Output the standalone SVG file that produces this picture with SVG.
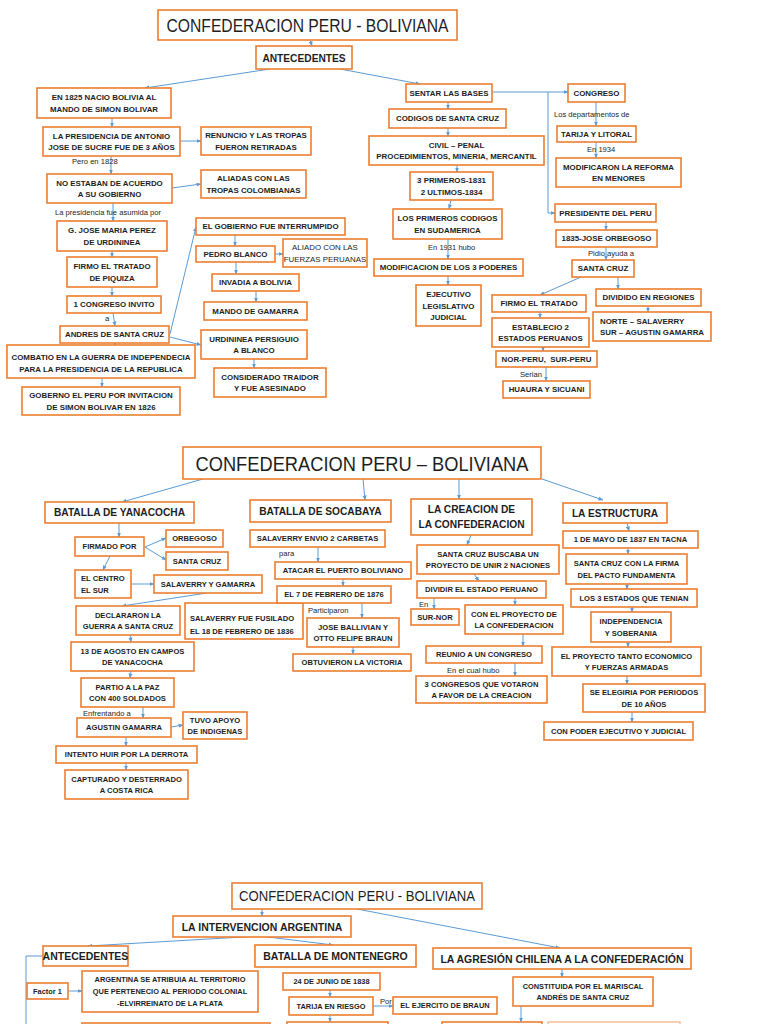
<svg xmlns="http://www.w3.org/2000/svg" width="768" height="1024" viewBox="0 0 768 1024">
<style>
rect{fill:#fff;stroke:#ED7D31;stroke-width:1.6}
text{font-family:"Liberation Sans",Arial,sans-serif;fill:#1e1e1e}
.t{font-size:7.9px;font-weight:bold;text-anchor:middle}
.t2{font-size:7.6px;font-weight:bold;text-anchor:middle}
.t3{font-size:7.4px;font-weight:bold;text-anchor:middle}
.l{text-anchor:start}
.h{font-size:10.2px;font-weight:bold;text-anchor:middle}
.h3{font-size:10.5px;font-weight:bold;text-anchor:middle}
.lb{font-size:7.6px;text-anchor:start}
.ttl{text-anchor:middle}
.n{font-weight:normal}
#conn path{fill:none;stroke:#5B9BD5;stroke-width:1}
#conn path.a{marker-end:url(#ah)}
</style>
<defs>
<marker id="ah" viewBox="0 0 10 10" refX="9" refY="5" markerWidth="5" markerHeight="5" markerUnits="userSpaceOnUse" orient="auto"><path d="M0,1 L10,5 L0,9 z" fill="#5B9BD5"/></marker>
</defs>
<rect x="0" y="0" width="768" height="1024" style="fill:#fff;stroke:none"/>

<g id="conn">
<path class="a" d="M310,40 L312,46"/>
<path class="a" d="M270,69 L145,88"/>
<path class="a" d="M340,69 L420,84"/>
<path class="a" d="M112,118 L112,127"/>
<path class="a" d="M180,141 L201,141"/>
<path class="a" d="M111,156 L111,174"/>
<path class="a" d="M172,188 L201,184"/>
<path class="a" d="M113,203 L113,221"/>
<path class="a" d="M112,251 L112,257"/>
<path class="a" d="M112,287 L112,296"/>
<path class="a" d="M113,313 L115,326"/>
<path class="a" d="M170,334 L196,227"/>
<path class="a" d="M170,337 L201,345"/>
<path class="a" d="M115,342 L115,345"/>
<path class="a" d="M102,378 L102,387"/>
<path class="a" d="M235,235 L235,246"/>
<path class="a" d="M275,254 L283,254"/>
<path class="a" d="M236,262 L236,274"/>
<path class="a" d="M256,291 L256,302"/>
<path class="a" d="M254,359 L254,368"/>
<path class="a" d="M448,102 L448,109"/>
<path class="a" d="M448,128 L448,136"/>
<path class="a" d="M457,165 L457,172"/>
<path class="a" d="M451,200 L449,209"/>
<path class="a" d="M448,239 L448,259"/>
<path class="a" d="M448,276 L448,285"/>
<path class="a" d="M492,92 L568,92"/>
<path class="a" d="M548,92 L548,213 L555,213"/>
<path class="a" d="M596,102 L596,126"/>
<path class="a" d="M596,142 L596,158"/>
<path class="a" d="M606,222 L606,230"/>
<path class="a" d="M606,247 L606,260"/>
<path class="a" d="M581,277 L540,295"/>
<path class="a" d="M618,277 L618,289"/>
<path class="a" d="M648,306 L648,312"/>
<path class="a" d="M540,312 L540,318"/>
<path class="a" d="M543,347 L543,351"/>
<path class="a" d="M546,367 L546,381"/>

<path class="a" d="M203,479 L122,502"/>
<path class="a" d="M363,479 L365,500"/>
<path class="a" d="M459,479 L459,499"/>
<path class="a" d="M542,479 L603,500"/>
<path class="a" d="M119,523 L119,537"/>
<path class="a" d="M145,547 L166,538"/>
<path class="a" d="M145,547 L166,560"/>
<path class="a" d="M110,556 L103,570"/>
<path class="a" d="M131,584 L154,584"/>
<path class="a" d="M207,593 L122,606"/>
<path class="a" d="M130,635 L131,642"/>
<path class="a" d="M131,671 L130,678"/>
<path class="a" d="M143,707 L143,718"/>
<path class="a" d="M171,727 L183,725"/>
<path class="a" d="M126,737 L126,746"/>
<path class="a" d="M126,763 L126,770"/>
<path class="a" d="M318,547 L318,562"/>
<path class="a" d="M343,579 L343,586"/>
<path class="a" d="M362,603 L362,618"/>
<path class="a" d="M353,647 L353,654"/>
<path class="a" d="M471,535 L467,545"/>
<path class="a" d="M474,574 L479,581"/>
<path class="a" d="M434,598 L434,609"/>
<path class="a" d="M515,598 L515,605"/>
<path class="a" d="M523,634 L523,646"/>
<path class="a" d="M515,663 L515,676"/>
<path class="a" d="M627,523 L629,531"/>
<path class="a" d="M628,548 L628,554"/>
<path class="a" d="M627,584 L627,589"/>
<path class="a" d="M632,607 L632,612"/>
<path class="a" d="M628,642 L628,647"/>
<path class="a" d="M627,676 L627,684"/>
<path class="a" d="M632,712 L632,722"/>

<path class="a" d="M262,909 L262,916"/>
<path class="a" d="M357,909 L560,948"/>
<path class="a" d="M260,936 L88,946"/>
<path class="a" d="M260,936 L333,945"/>
<path d="M43,956 L26,956 L26,1024"/>
<path class="a" d="M68,991 L82,991"/>
<path class="a" d="M330,990 L330,997"/>
<path class="a" d="M373,1006 L393,1006"/>
<path class="a" d="M330,1015 L330,1022"/>
<path class="a" d="M562,969 L562,977"/>
<path class="a" d="M521,1006 L521,1022"/>
</g>

<!-- Section 1 -->
<g id="title1"><rect x="158" y="10" width="299" height="30"/><text class="ttl" x="307.5" y="31.5" font-size="18" textLength="282" lengthAdjust="spacingAndGlyphs">CONFEDERACION PERU - BOLIVIANA</text></g>
<g id="ant1"><rect x="256" y="46" width="96" height="23"/><text class="h" x="304" y="61.5" font-size="10">ANTECEDENTES</text></g>
<g id="n1825"><rect x="37" y="88" width="134" height="30"/><text class="t" x="104" y="100">EN 1825 NACIO BOLIVIA AL</text><text class="t" x="104" y="111.5">MANDO DE SIMON BOLIVAR</text></g>
<g id="presid"><rect x="43" y="127" width="137" height="29"/><text class="t" x="111.5" y="138.5">LA PRESIDENCIA DE ANTONIO</text><text class="t" x="111.5" y="150">JOSE DE SUCRE FUE DE 3 AÑOS</text></g>
<g id="renuncio"><rect x="201" y="127" width="110" height="28"/><text class="t" x="256" y="138">RENUNCIO Y LAS TROPAS</text><text class="t" x="256" y="149.5">FUERON RETIRADAS</text></g>
<g id="noestaban"><rect x="47" y="174" width="125" height="29"/><text class="t" x="109.5" y="185.5">NO ESTABAN DE ACUERDO</text><text class="t" x="109.5" y="197">A SU GOBIERNO</text></g>
<g id="aliadas"><rect x="201" y="170" width="105" height="28"/><text class="t" x="253.5" y="181">ALIADAS CON LAS</text><text class="t" x="253.5" y="192.5">TROPAS COLOMBIANAS</text></g>
<g id="gjose"><rect x="57" y="221" width="110" height="30"/><text class="t" x="112" y="233">G. JOSE MARIA PEREZ</text><text class="t" x="112" y="244.5">DE URDININEA</text></g>
<g id="firmo1"><rect x="67" y="257" width="90" height="30"/><text class="t" x="112" y="269">FIRMO EL TRATADO</text><text class="t" x="112" y="280.5">DE PIQUIZA</text></g>
<g id="congreso1"><rect x="67" y="296" width="94" height="17"/><text class="t" x="114" y="307.3">1 CONGRESO INVITO</text></g>
<g id="andres"><rect x="60" y="326" width="109" height="17"/><text class="t" x="114.5" y="337.3">ANDRES DE SANTA CRUZ</text></g>
<g id="combatio"><rect x="7" y="345" width="188" height="33"/><text class="t" x="101" y="360">COMBATIO EN LA GUERRA DE INDEPENDECIA</text><text class="t" x="101" y="372">PARA LA PRESIDENCIA DE LA REPUBLICA</text></g>
<g id="goberno"><rect x="22" y="387" width="158" height="28"/><text class="t" x="101" y="398">GOBERNO EL PERU POR INVITACION</text><text class="t" x="101" y="409.5">DE SIMON BOLIVAR EN 1826</text></g>
<g id="gobierno"><rect x="196" y="218" width="149" height="17"/><text class="t" x="270.5" y="229.3">EL GOBIERNO FUE INTERRUMPIDO</text></g>
<g id="pedro"><rect x="196" y="246" width="79" height="16"/><text class="t" x="235.5" y="256.8">PEDRO BLANCO</text></g>
<g id="aliado"><rect x="283" y="239" width="84" height="28"/><text class="t n" x="325" y="250" font-size="7.2">ALIADO CON LAS</text><text class="t n" x="325" y="261.5" font-size="7.2">FUERZAS PERUANAS</text></g>
<g id="invadia"><rect x="212" y="274" width="87" height="17"/><text class="t" x="255.5" y="285.3">INVADIA A BOLIVIA</text></g>
<g id="mando"><rect x="204" y="302" width="103" height="18"/><text class="t" x="255.5" y="313.8">MANDO DE GAMARRA</text></g>
<g id="urdininea"><rect x="201" y="330" width="106" height="29"/><text class="t" x="254" y="341.5">URDININEA PERSIGUIO</text><text class="t" x="254" y="353">A BLANCO</text></g>
<g id="considerado"><rect x="214" y="368" width="112" height="29"/><text class="t" x="270" y="379.5">CONSIDERADO TRAIDOR</text><text class="t" x="270" y="391">Y FUE ASESINADO</text></g>
<g id="sentar"><rect x="406" y="84" width="86" height="18"/><text class="t" x="449" y="95.8">SENTAR LAS BASES</text></g>
<g id="codigos"><rect x="389" y="109" width="117" height="19"/><text class="t" x="447.5" y="121.3">CODIGOS DE SANTA CRUZ</text></g>
<g id="civil"><rect x="369" y="136" width="175" height="29"/><text class="t" x="456.5" y="147.5">CIVIL – PENAL</text><text class="t" x="456.5" y="159">PROCEDIMIENTOS, MINERIA, MERCANTIL</text></g>
<g id="primeros"><rect x="410" y="172" width="83" height="28"/><text class="t" x="451.5" y="183">3 PRIMEROS-1831</text><text class="t" x="451.5" y="194.5">2 ULTIMOS-1834</text></g>
<g id="losprimeros"><rect x="393" y="209" width="109" height="30"/><text class="t" x="447.5" y="221">LOS PRIMEROS CODIGOS</text><text class="t" x="447.5" y="232.5">EN SUDAMERICA</text></g>
<g id="modificacion"><rect x="374" y="259" width="149" height="17"/><text class="t" x="448.5" y="270.3">MODIFICACION DE LOS 3 PODERES</text></g>
<g id="ejecutivo"><rect x="416" y="285" width="65" height="41"/><text class="t" x="448.5" y="297">EJECUTIVO</text><text class="t" x="448.5" y="309">LEGISLATIVO</text><text class="t" x="448.5" y="320">JUDICIAL</text></g>
<g id="congreso2"><rect x="568" y="84" width="57" height="18"/><text class="t" x="596.5" y="95.8">CONGRESO</text></g>
<g id="tarija"><rect x="557" y="126" width="79" height="16"/><text class="t" x="596.5" y="136.8">TARIJA Y LITORAL</text></g>
<g id="modificaron"><rect x="556" y="158" width="125" height="29"/><text class="t" x="618.5" y="169.5">MODIFICARON LA REFORMA</text><text class="t" x="618.5" y="181">EN MENORES</text></g>
<g id="presidente"><rect x="555" y="204" width="101" height="18"/><text class="t" x="605.5" y="215.8">PRESIDENTE DEL PERU</text></g>
<g id="orbegoso"><rect x="556" y="230" width="101" height="17"/><text class="t" x="606.5" y="241.3">1835-JOSE ORBEGOSO</text></g>
<g id="santacruz1"><rect x="572" y="260" width="62" height="17"/><text class="t" x="603" y="271.3">SANTA CRUZ</text></g>
<g id="firmo2"><rect x="492" y="295" width="94" height="17"/><text class="t" x="539" y="306.3">FIRMO EL TRATADO</text></g>
<g id="dividido"><rect x="596" y="289" width="105" height="17"/><text class="t" x="648.5" y="300.3">DIVIDIDO EN REGIONES</text></g>
<g id="norte"><rect x="593" y="312" width="118" height="29"/><text class="t l" x="600" y="323.5">NORTE – SALAVERRY</text><text class="t l" x="600" y="335">SUR – AGUSTIN GAMARRA</text></g>
<g id="establecio"><rect x="492" y="318" width="97" height="29"/><text class="t" x="540.5" y="329.5">ESTABLECIO 2</text><text class="t" x="540.5" y="341">ESTADOS PERUANOS</text></g>
<g id="norperu"><rect x="496" y="351" width="101" height="16"/><text class="t" x="546.5" y="361.8" xml:space="preserve">NOR-PERU,  SUR-PERU</text></g>
<g id="huaura"><rect x="503" y="381" width="87" height="17"/><text class="t" x="546.5" y="392.3">HUAURA Y SICUANI</text></g>
<g id="labels1">
<text class="lb" x="72" y="164">Pero en 1828</text>
<text class="lb" x="55" y="215">La presidencia fue asumida por</text>
<text class="lb" x="105" y="321">a</text>
<text class="lb" x="554" y="116.5">Los departamentos de</text>
<text class="lb" x="587" y="151.5">En 1934</text>
<text class="lb" x="428" y="249.5">En 1931 hubo</text>
<text class="lb" x="588" y="255.5">Pidio ayuda a</text>
<text class="lb" x="520" y="376.5">Serian</text>
</g>

<!-- Section 2 -->
<g id="title2"><rect x="183" y="447" width="358" height="32"/><text class="ttl" x="362" y="470.5" font-size="21" textLength="333" lengthAdjust="spacingAndGlyphs">CONFEDERACION PERU – BOLIVIANA</text></g>
<g id="yanacocha"><rect x="45" y="502" width="149" height="21"/><text class="h" x="119.5" y="516">BATALLA DE YANACOCHA</text></g>
<g id="firmado"><rect x="75" y="537" width="69" height="19"/><text class="t2" x="109.5" y="549.3">FIRMADO POR</text></g>
<g id="orbegoso2"><rect x="166" y="530" width="57" height="17"/><text class="t2" x="194.5" y="541.3">ORBEGOSO</text></g>
<g id="santacruz2"><rect x="166" y="552" width="62" height="18"/><text class="t2" x="197" y="563.8">SANTA CRUZ</text></g>
<g id="centro"><rect x="75" y="570" width="56" height="28"/><text class="t2 l" x="81" y="581">EL CENTRO</text><text class="t2 l" x="81" y="592.5">EL SUR</text></g>
<g id="salagam"><rect x="154" y="575" width="108" height="18"/><text class="t2" x="208" y="586.8">SALAVERRY Y GAMARRA</text></g>
<g id="declararon"><rect x="76" y="606" width="104" height="29"/><text class="t2" x="128" y="617.5">DECLARARON LA</text><text class="t2" x="128" y="629">GUERRA A SANTA CRUZ</text></g>
<g id="fusilado"><rect x="185" y="603" width="118" height="36"/><text class="t2 l" x="190" y="621">SALAVERRY FUE FUSILADO</text><text class="t2 l" x="190" y="634">EL 18 DE FEBRERO DE 1836</text></g>
<g id="agosto"><rect x="71" y="642" width="123" height="29"/><text class="t2" x="132.5" y="653.5">13 DE AGOSTO EN CAMPOS</text><text class="t2" x="132.5" y="665">DE YANACOCHA</text></g>
<g id="partio"><rect x="81" y="678" width="93" height="29"/><text class="t2" x="127.5" y="689.5">PARTIO A LA PAZ</text><text class="t2" x="127.5" y="701">CON 400 SOLDADOS</text></g>
<g id="gamarra"><rect x="77" y="718" width="94" height="19"/><text class="t2" x="124" y="730.3">AGUSTIN GAMARRA</text></g>
<g id="apoyo"><rect x="183" y="712" width="64" height="27"/><text class="t2" x="215" y="722.5">TUVO APOYO</text><text class="t2" x="215" y="734">DE INDIGENAS</text></g>
<g id="intento"><rect x="56" y="746" width="141" height="17"/><text class="t2" x="126.5" y="757.3">INTENTO HUIR POR LA DERROTA</text></g>
<g id="capturado"><rect x="65" y="770" width="123" height="29"/><text class="t2" x="126.5" y="781.5">CAPTURADO Y DESTERRADO</text><text class="t2" x="126.5" y="793">A COSTA RICA</text></g>
<g id="socabaya"><rect x="250" y="500" width="141" height="22"/><text class="h" x="320.5" y="515">BATALLA DE SOCABAYA</text></g>
<g id="envio"><rect x="250" y="530" width="135" height="17"/><text class="t2" x="317.5" y="541.3">SALAVERRY ENVIO 2 CARBETAS</text></g>
<g id="atacar"><rect x="275" y="562" width="136" height="17"/><text class="t2" x="343" y="573.3">ATACAR EL PUERTO BOLIVIANO</text></g>
<g id="febrero"><rect x="277" y="586" width="114" height="17"/><text class="t2" x="334" y="597.3">EL 7 DE FEBRERO DE 1876</text></g>
<g id="ballivian"><rect x="307" y="618" width="92" height="29"/><text class="t2" x="353" y="629.5">JOSE BALLIVIAN Y</text><text class="t2" x="353" y="641">OTTO FELIPE BRAUN</text></g>
<g id="victoria"><rect x="293" y="654" width="118" height="17"/><text class="t2" x="352" y="665.3">OBTUVIERON LA VICTORIA</text></g>
<g id="creacion"><rect x="411" y="499" width="121" height="36"/><text class="h" x="471.5" y="513">LA CREACION DE</text><text class="h" x="471.5" y="528">LA CONFEDERACION</text></g>
<g id="buscaba"><rect x="417" y="545" width="142" height="29"/><text class="t2" x="488" y="556.5">SANTA CRUZ BUSCABA UN</text><text class="t2" x="488" y="568">PROYECTO DE UNIR 2 NACIONES</text></g>
<g id="dividir"><rect x="417" y="581" width="129" height="17"/><text class="t2" x="481.5" y="592.3">DIVIDIR EL ESTADO PERUANO</text></g>
<g id="surnor"><rect x="411" y="609" width="48" height="16"/><text class="t2" x="435" y="619.8">SUR-NOR</text></g>
<g id="conproyecto"><rect x="465" y="605" width="98" height="29"/><text class="t2" x="514" y="616.5">CON EL PROYECTO DE</text><text class="t2" x="514" y="628">LA CONFEDERACION</text></g>
<g id="reunio"><rect x="426" y="646" width="116" height="17"/><text class="t2" x="484" y="657.3">REUNIO A UN CONGRESO</text></g>
<g id="tres"><rect x="416" y="676" width="131" height="27"/><text class="t2" x="481.5" y="686.5">3 CONGRESOS QUE VOTARON</text><text class="t2" x="481.5" y="698">A FAVOR DE LA CREACION</text></g>
<g id="estructura"><rect x="563" y="503" width="104" height="20"/><text class="h" x="615" y="516.5">LA ESTRUCTURA</text></g>
<g id="mayo"><rect x="563" y="531" width="135" height="17"/><text class="t2" x="630.5" y="542.3">1 DE MAYO DE 1837 EN TACNA</text></g>
<g id="firma"><rect x="566" y="554" width="121" height="30"/><text class="t2" x="626.5" y="566">SANTA CRUZ CON LA FIRMA</text><text class="t2" x="626.5" y="577.5">DEL PACTO FUNDAMENTA</text></g>
<g id="tresestados"><rect x="571" y="589" width="126" height="18"/><text class="t2" x="634" y="600.8">LOS 3 ESTADOS QUE TENIAN</text></g>
<g id="independencia"><rect x="591" y="612" width="80" height="30"/><text class="t2" x="631" y="624">INDEPENDENCIA</text><text class="t2" x="631" y="635.5">Y SOBERANIA</text></g>
<g id="economico"><rect x="552" y="647" width="149" height="29"/><text class="t2" x="626.5" y="658.5">EL PROYECTO TANTO ECONOMICO</text><text class="t2" x="626.5" y="670">Y FUERZAS ARMADAS</text></g>
<g id="elegiria"><rect x="583" y="684" width="122" height="28"/><text class="t2" x="644" y="695">SE ELEGIRIA POR PERIODOS</text><text class="t2" x="644" y="706.5">DE 10 AÑOS</text></g>
<g id="poder"><rect x="544" y="722" width="149" height="18"/><text class="t2" x="618.5" y="733.8">CON PODER EJECUTIVO Y JUDICIAL</text></g>
<g id="labels2">
<text class="lb" x="279" y="555.5">para</text>
<text class="lb" x="308" y="612.5">Participaron</text>
<text class="lb" x="419" y="606.5">En</text>
<text class="lb" x="447" y="672.5">En el cual hubo</text>
<text class="lb" x="83" y="715.5">Enfrentando a</text>
</g>

<!-- Section 3 -->
<g id="title3"><rect x="232" y="883" width="250" height="26"/><text class="ttl" x="357" y="901" font-size="14.5" textLength="236" lengthAdjust="spacingAndGlyphs">CONFEDERACION PERU - BOLIVIANA</text></g>
<g id="intervencion"><rect x="173" y="916" width="178" height="21"/><text class="h3" x="262" y="930.5">LA INTERVENCION ARGENTINA</text></g>
<g id="antecedentes3"><rect x="43" y="946" width="85" height="20"/><text class="h3" x="85.5" y="959.5" font-size="8.9">ANTECEDENTES</text></g>
<g id="montenegro"><rect x="255" y="945" width="161" height="22"/><text class="h3" x="335.5" y="960">BATALLA DE MONTENEGRO</text></g>
<g id="agresion"><rect x="433" y="948" width="258" height="21"/><text class="h3" x="562" y="962.5">LA AGRESIÓN CHILENA A LA CONFEDERACIÓN</text></g>
<g id="factor1"><rect x="27" y="983" width="41" height="16"/><text class="t3" x="47.5" y="993.5" font-size="6.8">Factor 1</text></g>
<g id="argentina"><rect x="82" y="971" width="176" height="41"/><text class="t3" x="170" y="982">ARGENTINA SE ATRIBUIA AL TERRITORIO</text><text class="t3" x="170" y="994">QUE PERTENECIO AL PERIODO COLONIAL</text><text class="t3" x="170" y="1006">-ELVIRREINATO DE LA PLATA</text></g>
<g id="junio"><rect x="283" y="973" width="97" height="17"/><text class="t3" x="331.5" y="984.3">24 DE JUNIO DE 1838</text></g>
<g id="tarijariesgo"><rect x="289" y="997" width="84" height="18"/><text class="t3" x="331" y="1008.8">TARIJA EN RIESGO</text></g>
<g id="braun"><rect x="393" y="997" width="104" height="17"/><text class="t3" x="445" y="1008.3">EL EJERCITO DE BRAUN</text></g>
<g id="constituida"><rect x="513" y="977" width="140" height="29"/><text class="t3" x="583" y="988.5">CONSTITUIDA POR EL MARISCAL</text><text class="t3" x="583" y="1000">ANDRÉS DE SANTA CRUZ</text></g>
<g id="cut1"><rect x="82" y="1023" width="188" height="30"/></g>
<g id="cut2"><rect x="287" y="1022" width="101" height="30"/></g>
<g id="cut3"><rect x="442" y="1022" width="100" height="30"/></g>
<g id="cut4"><rect x="548" y="1022" width="132" height="30" style="stroke:#F6C3A0"/></g>
<g id="labels3"><text class="lb" x="380" y="1004" font-size="7">Por</text></g>
</svg>
